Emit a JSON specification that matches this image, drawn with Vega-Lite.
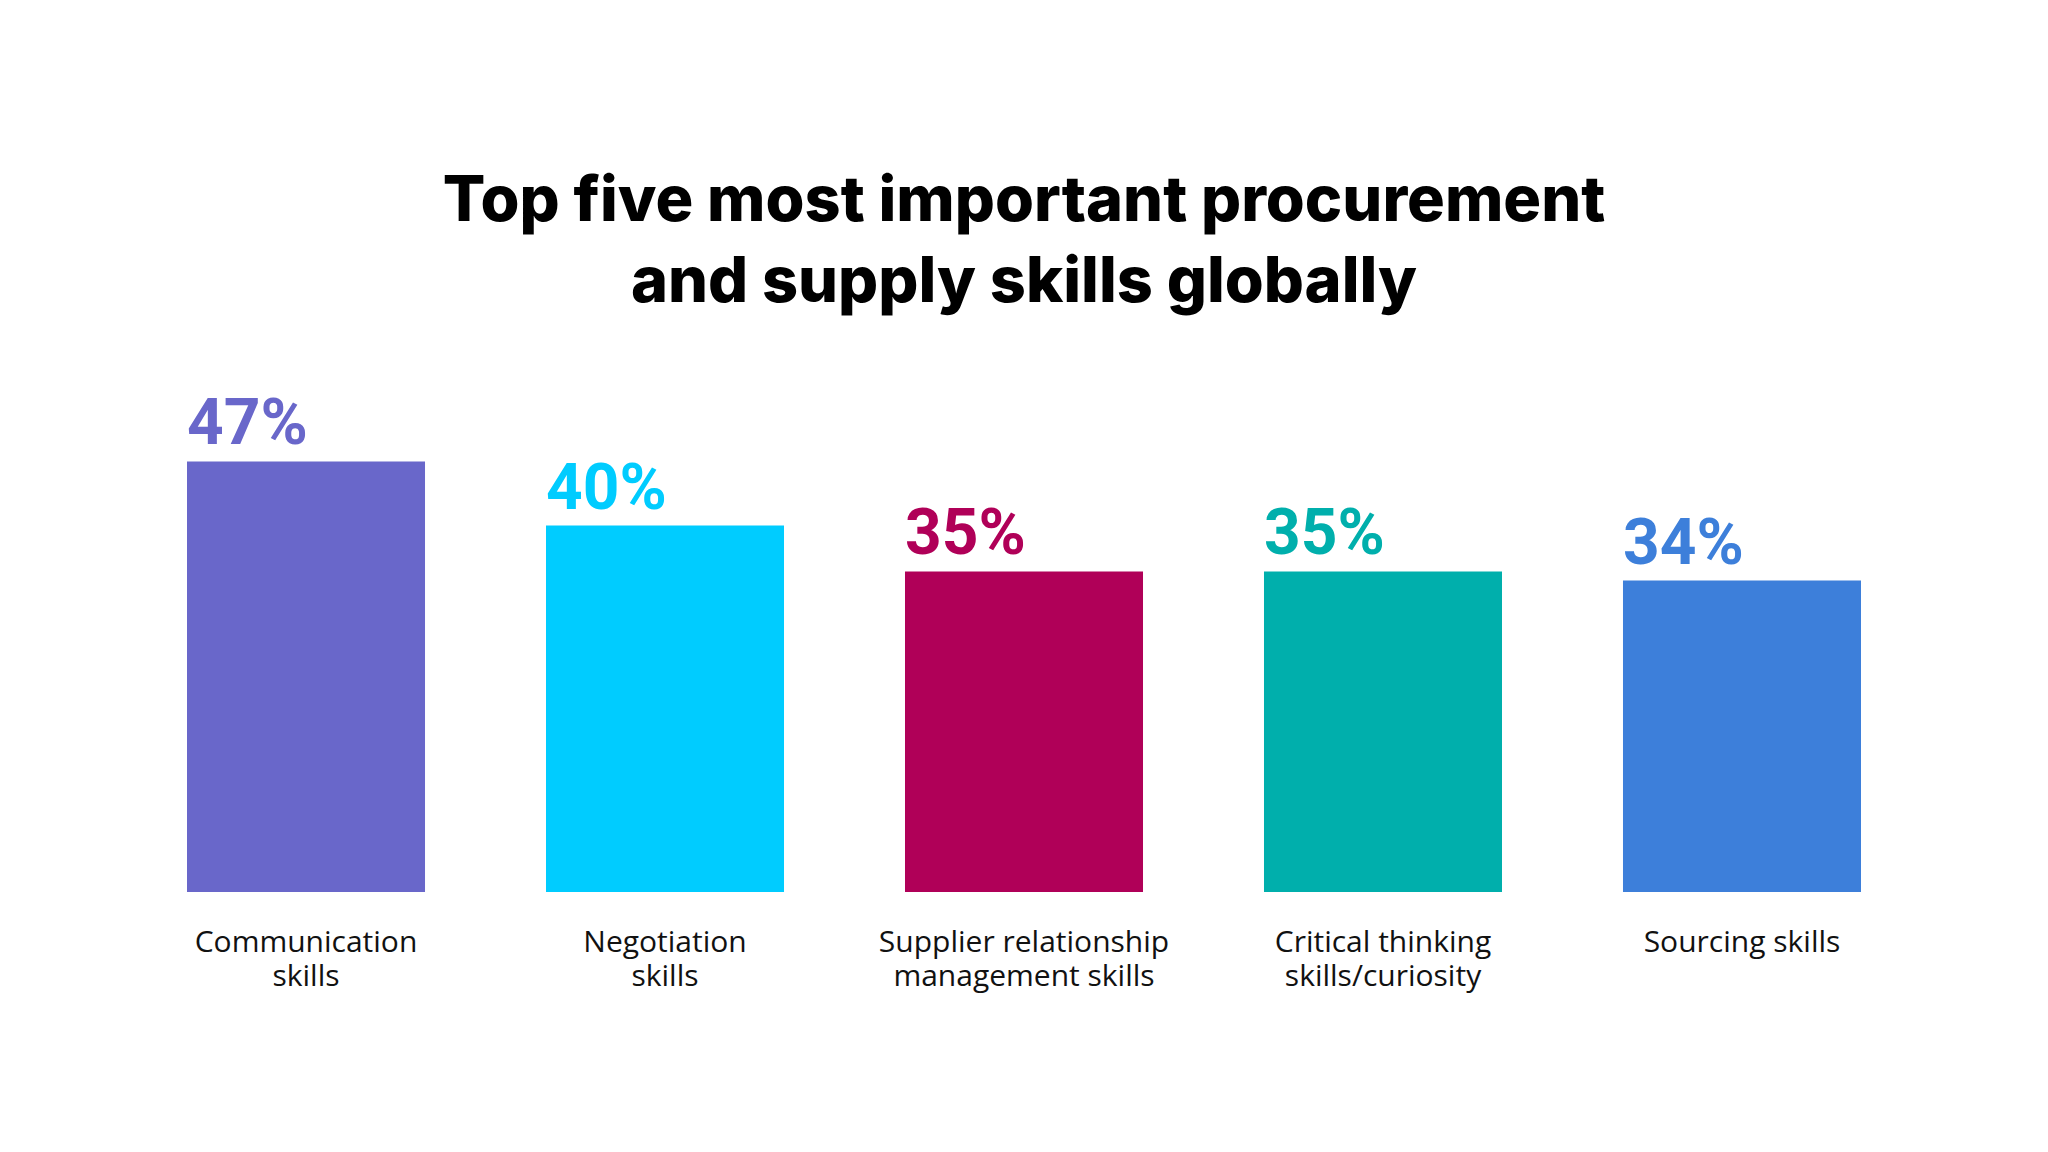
{
  "$schema": "https://vega.github.io/schema/vega-lite/v6.json",
  "width": 1674,
  "height": 458,
  "autosize": {"type": "none"},
  "padding": {"left": 187, "top": 434, "right": 187, "bottom": 260},
  "background": "white",
  "title": {
    "text": ["Top five most important procurement", "and supply skills globally"],
    "font": "Inter",
    "fontSize": 63,
    "fontWeight": 800,
    "lineHeight": 81,
    "color": "#000000",
    "anchor": "middle",
    "offset": 78
  },
  "data": {
    "values": [
      {"skill": "Communication\nskills", "value": 47, "label": "47%", "color": "#6967CA", "order": 1},
      {"skill": "Negotiation\nskills", "value": 40, "label": "40%", "color": "#00CCFF", "order": 2},
      {"skill": "Supplier relationship\nmanagement skills", "value": 35, "label": "35%", "color": "#B00058", "order": 3},
      {"skill": "Critical thinking\nskills/curiosity", "value": 35, "label": "35%", "color": "#00AFAC", "order": 4},
      {"skill": "Sourcing skills", "value": 34, "label": "34%", "color": "#3D7FDA", "order": 5}
    ]
  },
  "encoding": {
    "x": {
      "field": "skill",
      "type": "nominal",
      "sort": {"field": "order"},
      "scale": {"paddingInner": 0.337, "paddingOuter": 0},
      "axis": {
        "title": null,
        "domain": false,
        "ticks": false,
        "labelAngle": 0,
        "labelLimit": 0,
        "labelExpr": "split(datum.label, '\\n')",
        "labelFont": "Open Sans",
        "labelFontSize": 30,
        "labelLineHeight": 34,
        "labelColor": "#111111",
        "labelPadding": 35,
        "labelBaseline": "top"
      }
    },
    "y": {
      "field": "value",
      "type": "quantitative",
      "scale": {"domain": [0, 50]},
      "axis": null
    }
  },
  "layer": [
    {
      "mark": {"type": "bar"},
      "encoding": {
        "color": {"field": "color", "type": "nominal", "scale": null, "legend": null}
      }
    },
    {
      "mark": {"type": "text", "align": "left", "baseline": "alphabetic", "dy": -17, "font": "Roboto", "fontWeight": "bold", "fontSize": 64},
      "encoding": {
        "x": {"field": "skill", "type": "nominal", "sort": {"field": "order"}, "bandPosition": 0},
        "text": {"field": "label", "type": "nominal"},
        "color": {"field": "color", "type": "nominal", "scale": null, "legend": null}
      }
    }
  ],
  "config": {"view": {"stroke": null}}
}
